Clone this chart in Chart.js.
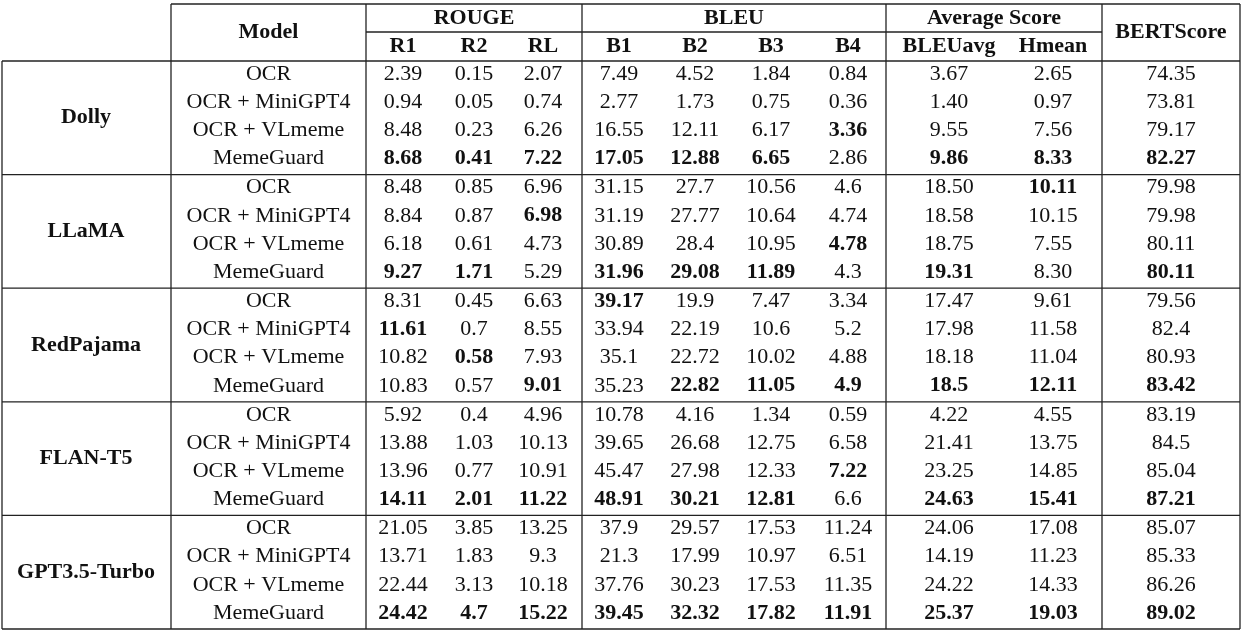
<!DOCTYPE html>
<html><head><meta charset="utf-8">
<script src="https://cdn.jsdelivr.net/npm/chart.js@4.4.1/dist/chart.umd.min.js"></script>
<style>html,body{margin:0;padding:0;background:#fff;overflow:hidden}#wrap{width:1245px;height:634px;position:relative}</style>
</head><body><div id="wrap"><canvas id="c"></canvas></div>
<script>
// ---------- data ----------
const groups = ['Dolly', 'LLaMA', 'RedPajama', 'FLAN-T5', 'GPT3.5-Turbo'];
const methods = ['OCR', 'OCR + MiniGPT4', 'OCR + VLmeme', 'MemeGuard'];
const modelHeader = 'Model';
const metricGroups = ['ROUGE', 'BLEU', 'Average Score'];
const metrics = ['R1', 'R2', 'RL', 'B1', 'B2', 'B3', 'B4', 'BLEUavg', 'Hmean'];
const lastMetric = 'BERTScore';

const dollyScores = [
  ['2.39','0.15','2.07','7.49','4.52','1.84','0.84','3.67','2.65','74.35'],
  ['0.94','0.05','0.74','2.77','1.73','0.75','0.36','1.40','0.97','73.81'],
  ['8.48','0.23','6.26','16.55','12.11','6.17','3.36','9.55','7.56','79.17'],
  ['8.68','0.41','7.22','17.05','12.88','6.65','2.86','9.86','8.33','82.27']
];
const llamaScores = [
  ['8.48','0.85','6.96','31.15','27.7','10.56','4.6','18.50','10.11','79.98'],
  ['8.84','0.87','6.98','31.19','27.77','10.64','4.74','18.58','10.15','79.98'],
  ['6.18','0.61','4.73','30.89','28.4','10.95','4.78','18.75','7.55','80.11'],
  ['9.27','1.71','5.29','31.96','29.08','11.89','4.3','19.31','8.30','80.11']
];
const redpajamaScores = [
  ['8.31','0.45','6.63','39.17','19.9','7.47','3.34','17.47','9.61','79.56'],
  ['11.61','0.7','8.55','33.94','22.19','10.6','5.2','17.98','11.58','82.4'],
  ['10.82','0.58','7.93','35.1','22.72','10.02','4.88','18.18','11.04','80.93'],
  ['10.83','0.57','9.01','35.23','22.82','11.05','4.9','18.5','12.11','83.42']
];
const flanScores = [
  ['5.92','0.4','4.96','10.78','4.16','1.34','0.59','4.22','4.55','83.19'],
  ['13.88','1.03','10.13','39.65','26.68','12.75','6.58','21.41','13.75','84.5'],
  ['13.96','0.77','10.91','45.47','27.98','12.33','7.22','23.25','14.85','85.04'],
  ['14.11','2.01','11.22','48.91','30.21','12.81','6.6','24.63','15.41','87.21']
];
const gptScores = [
  ['21.05','3.85','13.25','37.9','29.57','17.53','11.24','24.06','17.08','85.07'],
  ['13.71','1.83','9.3','21.3','17.99','10.97','6.51','14.19','11.23','85.33'],
  ['22.44','3.13','10.18','37.76','30.23','17.53','11.35','24.22','14.33','86.26'],
  ['24.42','4.7','15.22','39.45','32.32','17.82','11.91','25.37','19.03','89.02']
];
// indices of bold (best) cells per row
const dollyBest = [[], [], [6], [0,1,2,3,4,5,7,8,9]];
const llamaBest = [[8], [2], [6], [0,1,3,4,5,7,9]];
const redpajamaBest = [[3], [0], [1], [2,4,5,6,7,8,9]];
const flanBest = [[], [], [6], [0,1,2,3,4,5,7,8,9]];
const gptBest = [[], [], [], [0,1,2,3,4,5,6,7,8,9]];

const allScores = [dollyScores, llamaScores, redpajamaScores, flanScores, gptScores];
const allBest = [dollyBest, llamaBest, redpajamaBest, flanBest, gptBest];

// ---------- layout (in scale units) ----------
const W = 1245, H = 634;
const colX = [403, 474, 543, 619, 695, 771, 848, 949, 1053, 1171];
const groupLabelX = 86, modelX = 268.5;
const edges = {left: 2, model: 171, rouge: 366, bleu: 582, avg: 886, bert: 1102, right: 1240};
const topY = 4, midY = 32, headBottom = 61, bottomY = 629;
const groupH = (bottomY - headBottom) / groups.length;
const rowOffset = 13, rowStep = 28.2;
const head1Y = 18, head2Y = 46, headMidY = 32.5;

const FONT = '"Liberation Serif", "Times New Roman", serif';
const SIZE = 22;

// ---------- build points ----------
const cells = [];
function add(x, y, text, bold) { cells.push({x, y, text, bold}); }
add(modelX, headMidY, modelHeader, true);
add((edges.rouge + edges.bleu) / 2, head1Y, metricGroups[0], true);
add((edges.bleu + edges.avg) / 2, head1Y, metricGroups[1], true);
add((edges.avg + edges.bert) / 2, head1Y, metricGroups[2], true);
add(colX[9], headMidY, lastMetric, true);
metrics.forEach((m, i) => add(colX[i], head2Y, m, true));
groups.forEach((g, gi) => {
  const g0 = headBottom + gi * groupH;
  add(groupLabelX, g0 + groupH / 2, g, true);
  methods.forEach((m, ri) => {
    const y = g0 + rowOffset + ri * rowStep;
    add(modelX, y, m, false);
    allScores[gi][ri].forEach((v, ci) => add(colX[ci], y, v, allBest[gi][ri].includes(ci)));
  });
});

const hLines = [[topY, edges.model, edges.right], [midY, edges.rouge, edges.bert]];
for (let i = 0; i <= groups.length; i++) hLines.push([headBottom + i * groupH, edges.left, edges.right]);
const vLines = [[edges.left, headBottom, bottomY]];
[edges.model, edges.rouge, edges.bleu, edges.avg, edges.bert, edges.right].forEach(x => vLines.push([x, topY, bottomY]));

const tablePlugin = {
  id: 'tablePlugin',
  afterDatasetsDraw(chart) {
    const ctx = chart.ctx, xs = chart.scales.x, ys = chart.scales.y;
    ctx.save();
    ctx.strokeStyle = '#222';
    ctx.lineWidth = 1.3;
    hLines.forEach(([y, x1, x2]) => {
      ctx.beginPath();
      ctx.moveTo(xs.getPixelForValue(x1), ys.getPixelForValue(y));
      ctx.lineTo(xs.getPixelForValue(x2), ys.getPixelForValue(y));
      ctx.stroke();
    });
    vLines.forEach(([x, y1, y2]) => {
      ctx.beginPath();
      ctx.moveTo(xs.getPixelForValue(x), ys.getPixelForValue(y1));
      ctx.lineTo(xs.getPixelForValue(x), ys.getPixelForValue(y2));
      ctx.stroke();
    });
    ctx.fillStyle = '#111';
    ctx.textAlign = 'center';
    ctx.textBaseline = 'middle';
    const meta = chart.getDatasetMeta(0);
    const data = chart.data.datasets[0].data;
    meta.data.forEach((el, i) => {
      const d = data[i];
      ctx.font = (d.bold ? 'bold ' : '') + SIZE + 'px ' + FONT;
      ctx.fillText(d.text, el.x, el.y);
    });
    ctx.restore();
  }
};

new Chart(document.getElementById('c'), {
  type: 'scatter',
  data: { datasets: [{ data: cells, pointRadius: 0, pointHoverRadius: 0 }] },
  options: {
    responsive: true, maintainAspectRatio: false, animation: false,
    layout: { padding: 0 },
    plugins: { legend: { display: false }, tooltip: { enabled: false } },
    events: [],
    scales: {
      x: { type: 'linear', min: 0, max: W, display: false },
      y: { type: 'linear', min: 0, max: H, reverse: true, display: false }
    }
  },
  plugins: [tablePlugin]
});
</script>
</body></html>
